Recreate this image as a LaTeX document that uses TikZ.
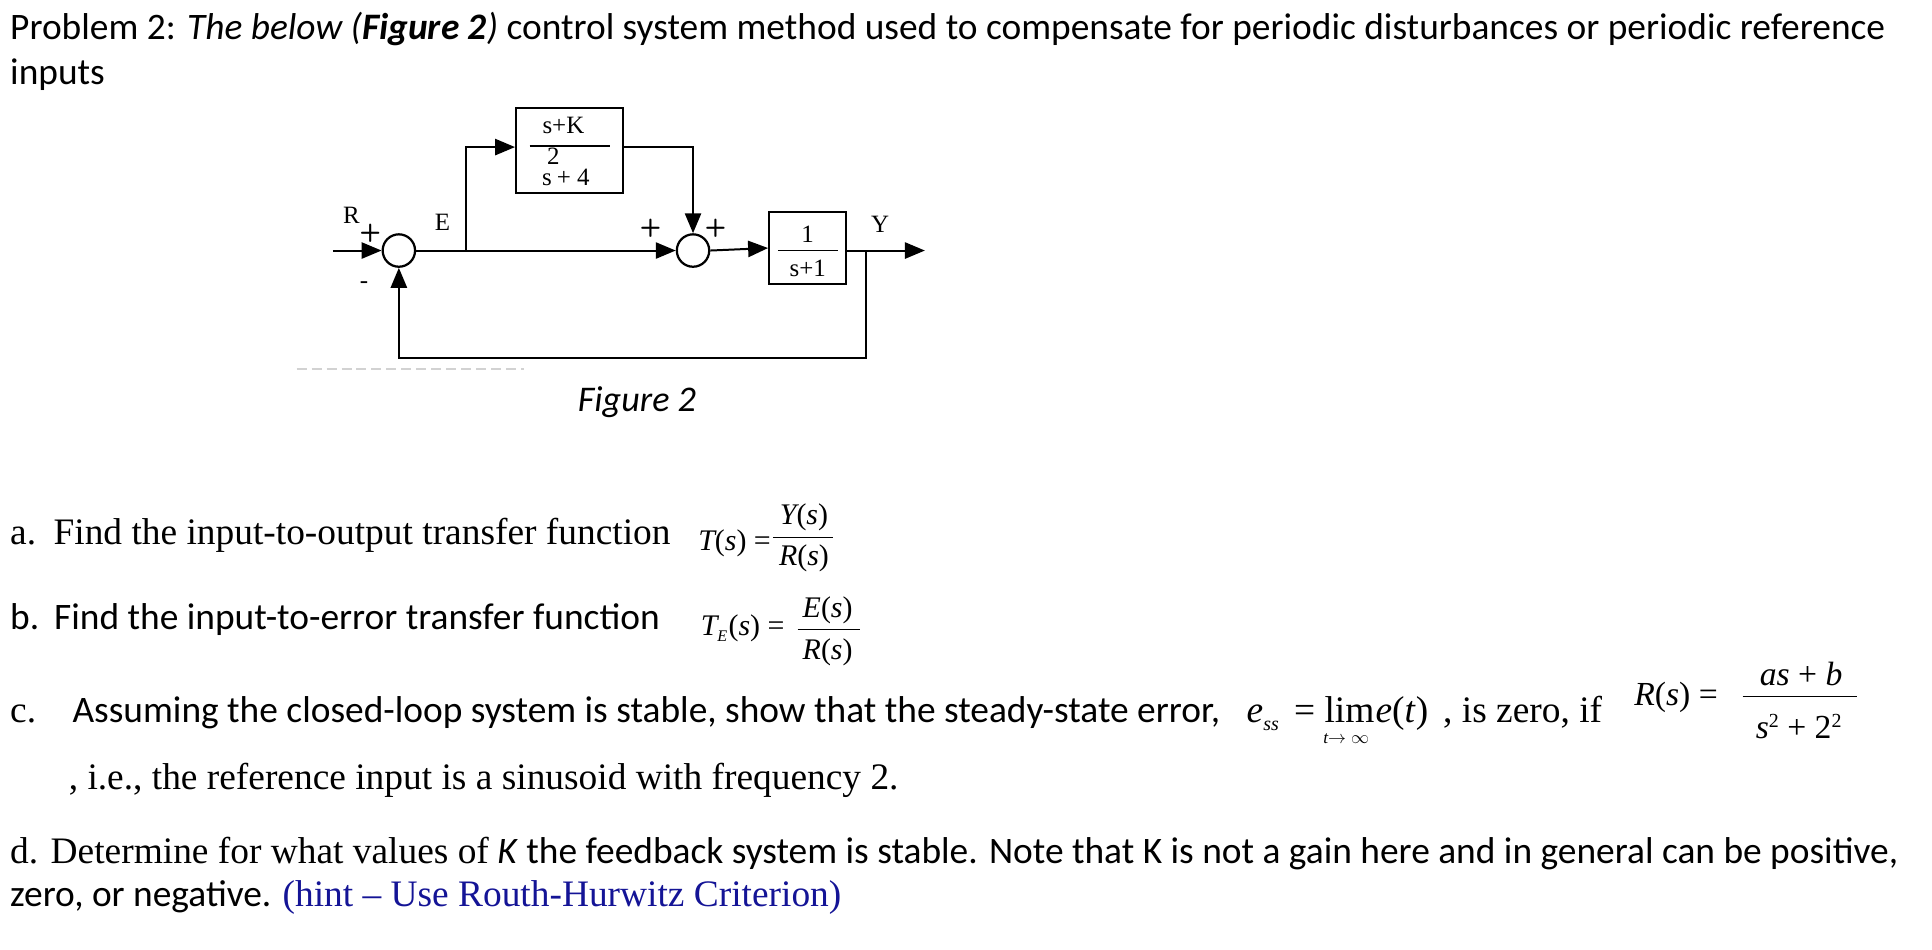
\documentclass[tikz,border=0pt]{standalone}
\usepackage{fontspec}
\setmainfont{Carlito}
\newfontfamily\tms{Liberation Serif}
\usetikzlibrary{arrows.meta}
\definecolor{hintblue}{RGB}{20,20,150}
\begin{document}
\begin{tikzpicture}[x=1pt,y=-1pt,
  sumc/.style={draw,circle,line width=1.8pt,minimum size=26pt,inner sep=0pt},
  arr/.style={line width=1.6pt,-{Triangle[length=16pt,width=13pt]}},
  lbl/.style={font=\tms\fontsize{20}{20}\selectfont,inner sep=0pt},
  tx/.style={anchor=base west,inner sep=0pt},
  cal/.style={font=\fontsize{30}{30}\selectfont},
  tim/.style={font=\tms\fontsize{30}{30}\selectfont},
  mth/.style={font=\tms\itshape\fontsize{24}{24}\selectfont,inner sep=0pt}]
\useasboundingbox (0,0) rectangle (1550,762);
% title
\node[tx,cal] (t1) at (8,32) {Problem 2: \textit{The below (\textbf{Figure 2}) }control system method used to compensate for periodic disturbances or periodic reference};
\node[tx,cal] (t2) at (8,68) {inputs};
% diagram
\node[sumc] (s1) at (320,201) {};
\node[sumc] (s2) at (556,201) {};
\node[draw,line width=1.6pt,minimum width=86pt,minimum height=68pt] (b1) at (457,121) {};
\node[lbl] (b1n) at (452,101) {s+K};
\draw[line width=1.3pt] (425,117) -- (489,117);
\node[lbl] (b1d) at (454,142) {s\hspace{4pt}+ 4};
\node[lbl] (b1e) at (444,125) {2};
\node[draw,line width=1.6pt,minimum width=62pt,minimum height=58pt] (b2) at (648,199) {};
\node[lbl] (b2n) at (648,188) {1};
\draw[line width=1.3pt] (624,201) -- (672,201);
\node[lbl] (b2d) at (648,215) {s+1};
\coordinate (rin) at (267,201);
\coordinate (ej) at (374,201);
\coordinate (etop) at (374,118);
\coordinate (b1o) at (556,118);
\coordinate (yj) at (695,201);
\coordinate (yout) at (742,201);
\coordinate (fb1) at (695,287);
\coordinate (fb2) at (320,287);
\draw[arr] (rin) -- (s1.west);
\draw[arr] (s1.east) -- (s2.west);
\draw[arr] (ej) -- (etop) -- (b1.west |- etop);
\draw[arr] (b1.east |- b1o) -- (b1o) -- (s2.north);
\draw[arr] (s2.east) -- (b2.west);
\draw[arr] (b2.east |- yj) -- (yout);
\draw[arr] (yj) -- (fb1) -- (fb2) -- (s1.south);
\node[lbl] (lR) at (282,173) {R};
\node[lbl,font=\sffamily\bfseries\fontsize{20}{20}\selectfont] (lp1) at (297,187) {+};
\node[lbl] (lm) at (292,229) {-};
\node[lbl] (lE) at (355,178) {E};
\node[lbl,font=\sffamily\bfseries\fontsize{20}{20}\selectfont] (lp2) at (522,183) {+};
\node[lbl,font=\sffamily\bfseries\fontsize{20}{20}\selectfont] (lp3) at (574,183) {+};
\node[lbl] (lY) at (706,180) {Y};
\draw[gray!35,line width=1pt,dash pattern=on 8pt off 4pt] (238,296) -- (420,296);
\node[font=\itshape\fontsize{29}{29}\selectfont] (fig) at (511,323) {Figure 2};
% a
\node[tx,tim] (qa) at (8,437) {a.\hspace{14pt}Find the input-to-output transfer function};
\node[tx,mth] (ta) at (560,442) {T\upshape(\itshape s\upshape) =};
\node[mth] (ya) at (645,415) {Y\upshape(\itshape s\upshape)};
\draw[line width=1pt] (620,431) -- (668,431);
\node[mth] (ra) at (645,448) {R\upshape(\itshape s\upshape)};
% b
\node[tx,cal] (qb) at (8,505) {b.\hspace{12pt}Find the input-to-error transfer function};
\node[tx,mth] (tb) at (562,510) {T\raisebox{-5pt}{\fontsize{13}{13}\selectfont E}\hspace{1pt}\upshape(\itshape s\upshape) =};
\node[mth] (eb) at (664,490) {E\upshape(\itshape s\upshape)};
\draw[line width=1pt] (640,505) -- (690,505);
\node[mth] (rb) at (664,523) {R\upshape(\itshape s\upshape)};
% c
\node[tx,tim] (qc) at (8,580) {c.};
\node[tx,cal] (qc2) at (58,580) {Assuming the closed-loop system is stable, show that the steady-state error,};
\node[tx,tim] (ess) at (1000,580) {\textit{e}\raisebox{-6pt}{\fontsize{16}{16}\selectfont\itshape ss}};
\node[tx,tim] (lim) at (1038,580) {= lim\hspace{1pt}\textit{e}(\textit{t})\hspace{12pt}, is zero, if};
\node[font=\tms\itshape\fontsize{14}{14}\selectfont,inner sep=0pt] (tinf) at (1080,593) {t\upshape$\to\infty$};
\node[tx,mth,font=\tms\itshape\fontsize{27}{27}\selectfont] (rc) at (1311,566) {R\upshape(\itshape s\upshape) =};
\node[mth,font=\tms\itshape\fontsize{27}{27}\selectfont] (nc) at (1445,541) {as \upshape+ \itshape b};
\draw[line width=1pt] (1398,559) -- (1490,559);
\node[mth,font=\tms\itshape\fontsize{27}{27}\selectfont] (dc) at (1443,583) {s\upshape\raisebox{9pt}{\fontsize{16}{16}\selectfont 2} + 2\raisebox{9pt}{\fontsize{16}{16}\selectfont 2}};
\node[tx,tim] (qc3) at (55,633) {, i.e., the reference input is a sinusoid with frequency 2.};
% d
\node[tx,cal] (qd) at (8,693) {{\tms d. Determine for what values of} \textit{K} the feedback system is stable. Note that K is not a gain here and in general can be positive,};
\node[tx,cal] (qd2) at (8,727) {zero, or negative. {\tms\color{hintblue}(hint – Use Routh-Hurwitz Criterion)}};
\end{tikzpicture}
\end{document}
